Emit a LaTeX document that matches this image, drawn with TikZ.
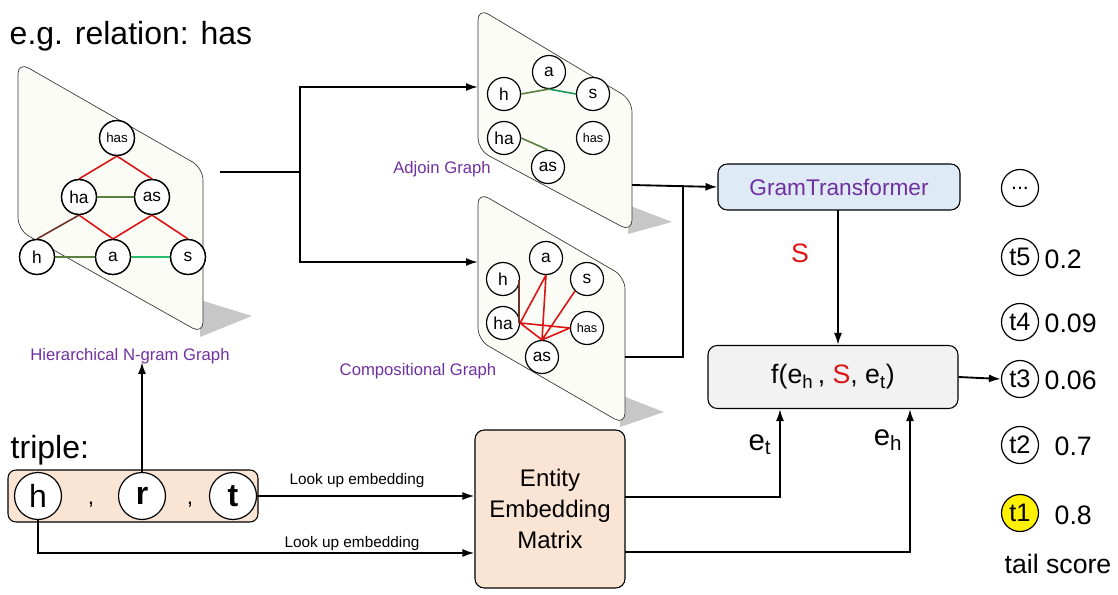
\documentclass[tikz,border=0pt]{standalone}
\usepackage{fontspec}
\setmainfont{Liberation Sans}
\usetikzlibrary{arrows.meta}
\definecolor{panel}{RGB}{252,252,247}
\definecolor{peach}{RGB}{250,228,212}
\definecolor{gtblue}{RGB}{222,234,246}
\definecolor{fgray}{RGB}{242,242,242}
\definecolor{purp}{RGB}{112,48,160}
\definecolor{ered}{RGB}{220,20,20}
\definecolor{egreen}{RGB}{90,130,60}
\definecolor{bgreen}{RGB}{40,190,110}
\definecolor{ebrown}{RGB}{110,50,40}
\begin{document}
\begin{tikzpicture}[x=0.75pt,y=-0.75pt,
  panelst/.style={draw=black!80,fill=panel,rounded corners=9pt,line width=0.5pt},
  shadow/.style={fill=black!22,draw=none},
  gn/.style={circle,draw,line width=0.9pt,fill=white,minimum size=35*0.75pt,inner sep=0pt,font=\fontsize{13}{14}\selectfont},
  gns/.style={gn,font=\fontsize{10}{11}\selectfont},
  an/.style={gn,minimum size=33*0.75pt},
  ans/.style={an,font=\fontsize{9.5}{11}\selectfont},
  tn/.style={circle,draw,line width=0.9pt,fill=white,minimum size=47*0.75pt,inner sep=0pt,font=\fontsize{24}{26}\selectfont},
  sn/.style={circle,draw,line width=0.9pt,fill=white,minimum size=37*0.75pt,inner sep=0pt,font=\fontsize{19}{20}\selectfont},
  lab/.style={text=purp,font=\fontsize{12.5}{14}\selectfont},
  arr/.style={-{Latex[length=9pt,width=6pt]},line width=1.4pt},
  ln/.style={line width=1.4pt},
  box/.style={draw,rounded corners=7pt,line width=0.8pt}]
\useasboundingbox (0,0) rectangle (1118,595);
% panels
\fill[shadow] (200,300) -- (252,316) -- (200,337) -- cycle;
\draw[panelst] (18,62) -- (203,168) -- (203,334) -- (18,230) -- cycle;
\fill[shadow] (628,205) -- (672,222) -- (628,234) -- cycle;
\draw[panelst] (478,8) -- (632,100) -- (632,232) -- (478,150) -- cycle;
\fill[shadow] (620,395) -- (664,412) -- (620,427) -- cycle;
\draw[panelst] (478,192) -- (625,277) -- (625,425) -- (478,340) -- cycle;
% left graph
\node[gns] (Lhas) at (117,138) {has};
\node[gn] (Lha) at (79,197) {ha};
\node[gn] (Las) at (152,197) {as};
\node[gn] (Lh) at (37,257) {h};
\node[gn] (La) at (113,257) {a};
\node[gn] (Ls) at (188,257) {s};
\draw[ered,line width=1.2pt] (Lhas.south) -- (Lha.north) (Lhas.south) -- (Las.north)
  (Lha.south) -- (La.north) (Las.south) -- (La.north) (Las.south) -- (Ls.north);
\draw[ebrown,line width=1.2pt] (Lha.south) -- (Lh.north);
\draw[egreen,line width=1.2pt] (Lha) -- (Las) (Lh) -- (La);
\draw[bgreen,line width=1.2pt] (La) -- (Ls);
\foreach \n in {Lhas,Lha,Las,Lh,La,Ls}{\node[draw,circle,line width=0.9pt,minimum size=35*0.75pt] at (\n) {};}
% adjoin graph
\node[an] (Aa) at (549,72) {a};
\node[an] (Ah) at (504,94) {h};
\node[an] (As) at (593,94) {s};
\node[an] (Aha) at (504,138) {ha};
\node[ans] (Ahas) at (593,138) {has};
\node[an] (Aas) at (548,167) {as};
\draw[egreen,line width=1.2pt] (Ah.east) -- (Aa.south);
\draw[bgreen!80!black,line width=1.2pt] (Aa.south) -- (As.west);
\draw[egreen,line width=1.2pt] (Aha.east) -- (Aas.north);
% compositional graph
\node[an] (Ca) at (546,258) {a};
\node[an] (Ch) at (503,279) {h};
\node[an] (Cs) at (587,279) {s};
\node[an] (Cha) at (503,323) {ha};
\node[ans] (Chas) at (587,328) {has};
\node[an] (Cas) at (542,357) {as};
\draw[ebrown,line width=1.2pt] (519,280) -- (519,323);
\draw[ered,line width=1.2pt] (Cha.east) -- (Ca.south) (Cha.east) -- (Chas.west) (Ca.south) -- (Cas.north)
  (Cs.south west) -- (Cas.north) (Cas.north) -- (Chas.west) (Cha.east) -- (Cas.north);
% labels
\node[font=\fontsize{24}{26}\selectfont,anchor=west] (eg) at (5,36) {e.g. relation: has};
\node[lab] (lh) at (130,356) {Hierarchical N-gram Graph};
\node[lab] (la) at (442,169) {Adjoin Graph};
\node[lab] (lc) at (418,371) {Compositional Graph};
% arrows from left graph
\coordinate (p0) at (220,172);
\coordinate (p1) at (300,172);
\coordinate (adjin) at (478,87);
\coordinate (compin) at (478,262);
\draw[ln] (p0) -- (p1);
\draw[arr] (p1) |- (adjin);
\draw[arr] (p1) |- (compin);
% gram transformer
\node[box,fill=gtblue,minimum width=242*0.75pt,minimum height=46*0.75pt,text=purp,font=\fontsize{17}{19}\selectfont] (gt) at (839,187) {GramTransformer};
\coordinate (adjout) at (632,185);
\coordinate (compout) at (625,357);
\coordinate (jn) at (683,185);
\draw[arr] (adjout) -- (gt.west);
\draw[ln] (compout) -| (jn);
\node[text=ered,font=\fontsize{20}{22}\selectfont] (S) at (800,253) {S};
\node[box,fill=fgray,minimum width=250*0.75pt,minimum height=63*0.75pt,font=\fontsize{20}{22}\selectfont] (f) at (833,377)
 {f(e\textsubscript{h}\,, \textcolor{ered}{S}, e\textsubscript{t})};
\coordinate (gtb) at (838,210);
\draw[arr] (gtb) -- (gtb |- f.north);
% scores
\node[sn,font=\fontsize{16}{17}\selectfont] (dots) at (1020,188) {...};
\node[sn] (t5) at (1020,257) {t5};
\node[sn] (t4) at (1020,322) {t4};
\node[sn] (t3) at (1020,379) {t3};
\node[sn] (t2) at (1020,445) {t2};
\node[sn,fill=yellow] (t1) at (1020,513) {t1};
\begin{scope}[font=\fontsize{20}{22}\selectfont]
\node[anchor=west] (s5) at (1040,259) {0.2};
\node[anchor=west] (s4) at (1040,323) {0.09};
\node[anchor=west] (s3) at (1040,380) {0.06};
\node[anchor=west] (s2) at (1050,446) {0.7};
\node[anchor=west] (s1) at (1050,515) {0.8};
\end{scope}
\node[font=\fontsize{20}{22}\selectfont] (ts) at (1058,564) {tail score};
\draw[arr] (f.east) -- (t3.west);
% triple
\node[font=\fontsize{24}{26}\selectfont,anchor=west] (tl) at (6,450) {triple:};
\draw[box,fill=peach,rounded corners=6pt] (8,470) rectangle (258,522);
\node[tn] (th) at (38,496) {h};
\node[tn,font=\fontsize{24}{26}\selectfont\bfseries] (tr) at (142,496) {r};
\node[tn,font=\fontsize{24}{26}\selectfont\bfseries] (tt) at (233,496) {t};
\node[font=\fontsize{17}{17}\selectfont] (c1) at (91,505) {,};
\node[font=\fontsize{17}{17}\selectfont] (c2) at (190,505) {,};
\coordinate (lhb) at (142,362);
\draw[arr] (tr.north) -- (lhb);
% entity
\node[box,fill=peach,minimum width=150*0.75pt,minimum height=158*0.75pt,align=center,font=\fontsize{18}{23}\selectfont] (E) at (550,509) {Entity\\Embedding\\Matrix};
\draw[arr] (tt.east) -- (tt.east -| E.west);
\node[font=\fontsize{11.5}{13}\selectfont] (l1) at (357,481) {Look up embedding};
\coordinate (hb) at (38,553);
\draw[arr] (th.south) -- (hb) -- (hb -| E.west);
\node[font=\fontsize{11.5}{13}\selectfont] (l2) at (352,544) {Look up embedding};
\coordinate (et) at (780,497);
\coordinate (eh) at (910,552);
\draw[arr] (625,497) -- (et) -- (et |- f.south);
\draw[arr] (625,552) -- (eh) -- (eh |- f.south);
\node[font=\fontsize{22}{24}\selectfont] (etl) at (760,445) {e\textsubscript{t}};
\node[font=\fontsize{22}{24}\selectfont] (ehl) at (888,440) {e\textsubscript{h}};
\end{tikzpicture}
\end{document}
